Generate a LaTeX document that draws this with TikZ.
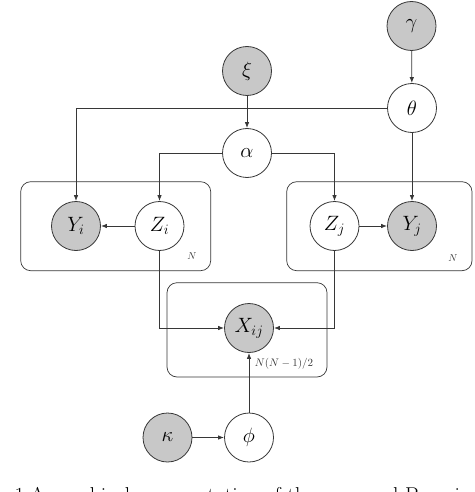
\documentclass[tikz,border=0pt]{standalone}
\usepackage{fontspec}
\usetikzlibrary{arrows.meta}
\definecolor{linec}{RGB}{55,55,55}
\definecolor{obsfill}{RGB}{200,200,200}
\begin{document}
\begin{tikzpicture}[x=1pt,y=-1pt,
  base/.style={circle, draw=linec, line width=0.8pt, minimum size=49pt, inner sep=0pt, font=\fontsize{21}{25}\selectfont},
  obs/.style={base, fill=obsfill},
  lat/.style={base, fill=white},
  arr/.style={draw=linec, line width=0.8pt, -{Latex[length=6pt,width=4.5pt]}},
  plate/.style={draw=linec, line width=0.7pt, rounded corners=10pt},
  platelab/.style={font=\fontsize{10}{12}\selectfont, text=linec, inner sep=0pt},
  captext/.style={inner sep=0pt, font=\fontsize{21.5}{25}\selectfont}]
\useasboundingbox (0,0) rectangle (474,492);
\clip (0,0) rectangle (474,492);
% plates
\draw[plate] (20.7,181.7) rectangle (210.7,270.7);
\draw[plate] (286.7,181.7) rectangle (472,270.7);
\draw[plate] (167,282.7) rectangle (327,377);
% nodes
\node[obs] (gamma) at (411.5,26) {$\gamma$};
\node[lat] (theta) at (412,108) {$\theta$};
\node[obs] (xi) at (247,71) {$\xi$};
\node[lat] (alpha) at (247,153) {$\alpha$};
\node[obs] (Yi) at (76,226) {$Y_i$};
\node[lat] (Zi) at (159.5,226) {$Z_i$};
\node[lat] (Zj) at (334.5,226) {$Z_j$};
\node[obs] (Yj) at (412,226) {$Y_j$};
\node[obs] (Xij) at (249,328) {$X_{ij}$};
\node[obs] (kappa) at (167.5,437.5) {$\kappa$};
\node[lat] (phi) at (249,437.5) {$\phi$};
% plate labels
\node[platelab] (nl) at (192,256) {$N$};
\node[platelab] (nr) at (453,258) {$N$};
\node[platelab, font=\fontsize{11}{13}\selectfont] (nn) at (284,364) {$N(N-1)/2$};
% edges
\draw[arr] (gamma) -- (theta);
\draw[arr] (xi) -- (alpha);
\draw[arr] (theta.west) -| (Yi.north);
\draw[arr] (theta) -- (Yj);
\draw[arr] (alpha.west) -| (Zi.north);
\draw[arr] (alpha.east) -| (Zj.north);
\draw[arr] (Zi) -- (Yi);
\draw[arr] (Zj) -- (Yj);
\draw[arr] (Zi.south) |- (Xij.west);
\draw[arr] (Zj.south) |- (Xij.east);
\draw[arr] (kappa) -- (phi);
\draw[arr] (phi) -- (Xij);
% caption (cut off at the bottom edge)
\node[captext, anchor=base west] (cap) at (30,502) {A graphical representation of the proposed Bayesian model};
\node[captext, anchor=base east] (capnum) at (cap.base west) {Figure 1:\ };
\end{tikzpicture}
\end{document}
